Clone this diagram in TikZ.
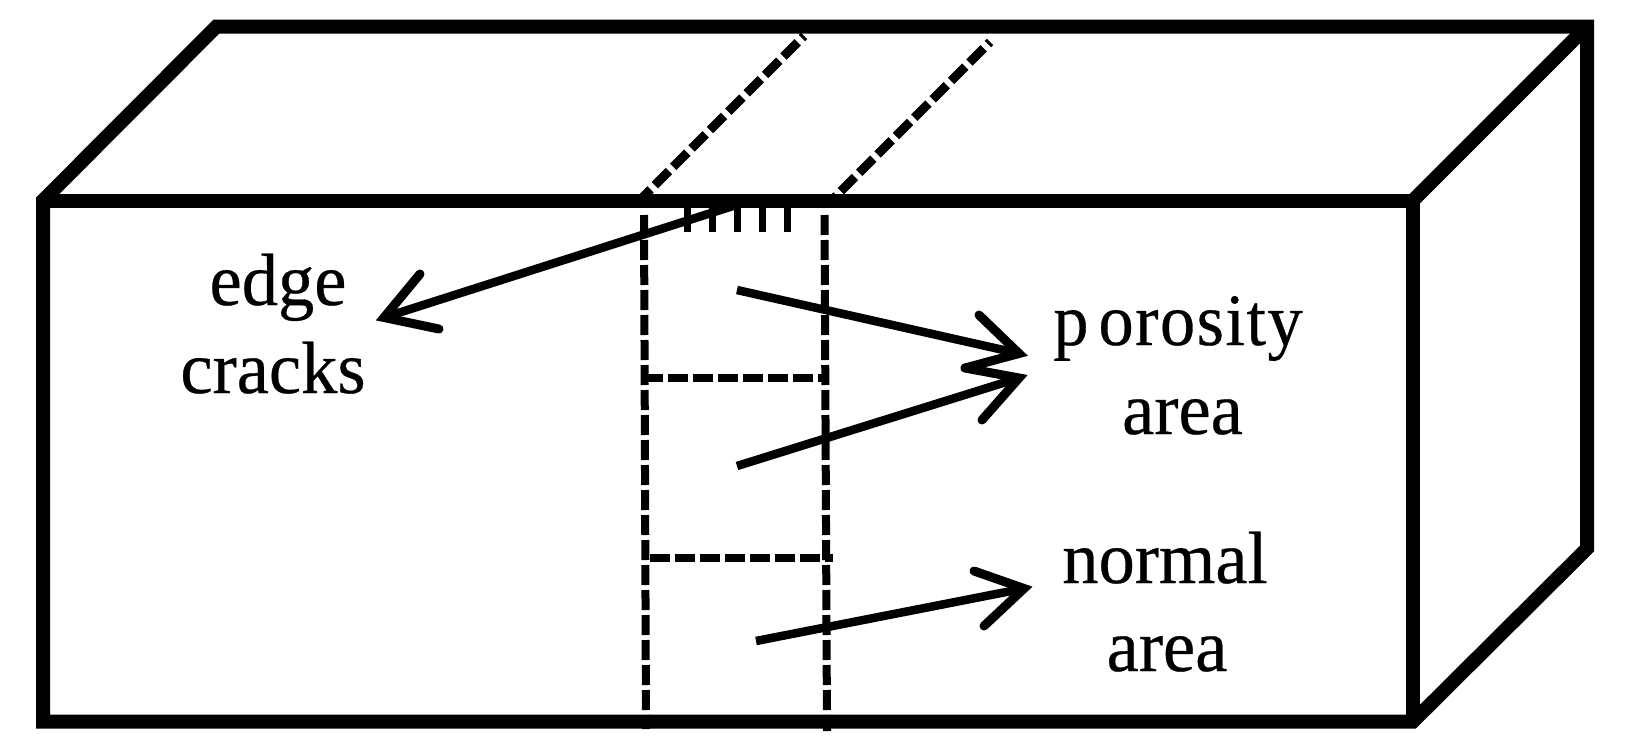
\documentclass[tikz,border=0pt]{standalone}
\usepackage{fontspec}
\newfontfamily\lab[FakeStretch=0.98,FakeBold=0.4]{Liberation Serif}
\newfontfamily\labsp[FakeStretch=0.95,FakeBold=0.4,LetterSpace=2]{Liberation Serif}
\tikzset{
  boxline/.style={line width=14pt,line join=miter,miter limit=10},
  cut/.style={line width=8pt,dash pattern=on 20pt off 5pt},
  slant/.style={line width=9pt,dash pattern=on 20pt off 6pt},
  tick/.style={line width=7.5pt},
  shaft/.style={line width=8.5pt},
  barb/.style={line width=9pt,line cap=round,line join=miter,miter limit=20},
  lbl/.style={anchor=base,inner sep=0pt,font=\lab\fontsize{74}{74}\selectfont}
}
\begin{document}
\begin{tikzpicture}[x=1pt,y=-1pt]
\useasboundingbox (0,0) rectangle (1627,755);
\fill[white] (0,0) rectangle (1627,755);
% box corners
\coordinate (ftl) at (43,200.5);
\coordinate (ftr) at (1413,200.5);
\coordinate (fbr) at (1413,721.5);
\coordinate (fbl) at (43,721.5);
\coordinate (btl) at (216.5,26.5);
\coordinate (btr) at (1587,26.5);
\coordinate (bbr) at (1587,548.5);
% dashed section
\coordinate (l0) at (644,215);
\coordinate (l1) at (646,729);
\coordinate (r0) at (824.5,215);
\coordinate (r1) at (827,731);
\coordinate (t1a) at (804,36);
\coordinate (t1b) at (640,200);
\coordinate (t2a) at (990,42);
\coordinate (t2b) at (832,200);
\coordinate (h1a) at (643,378);
\coordinate (h1b) at (826,378);
\coordinate (h2a) at (650,558);
\coordinate (h2b) at (833,558);
\draw[cut] (l0) -- (l1);
\draw[cut] (r0) -- (r1);
\draw[slant,dash phase=17pt] (t1a) -- (t1b);
\draw[slant,dash phase=17pt] (t2a) -- (t2b);
\draw[cut] (h1a) -- (h1b);
\draw[cut] (h2a) -- (h2b);
% cracks
\foreach \i/\x in {1/687.5,2/712.5,3/737.5,4/762.5,5/787.5}{
  \coordinate (c\i a) at (\x,200);
  \coordinate (c\i b) at (\x,232);
  \draw[tick] (c\i a) -- (c\i b);
}
% box outline
\draw[boxline] (fbl) -- (ftl) -- (btl) -- (btr) -- (bbr) -- (fbr) -- cycle;
\draw[boxline] (ftl) -- (ftr) -- (fbr);
\draw[boxline] (ftr) -- (btr);
% labels
\node[lbl] (edge) at (278,305) {edge};
\node[lbl] (cracks) at (273,393) {cracks};
\node[lbl,font=\labsp\fontsize{74}{74}\selectfont] (porosity) at (1178,345) {p\kern10pt orosity};
\node[lbl] (area1) at (1182.5,434) {area};
\node[lbl] (normal) at (1165,583) {normal};
\node[lbl] (area2) at (1167,671) {area};
% arrows
\coordinate (e0) at (733,206);
\coordinate (e1) at (384,317.5);
\coordinate (e2) at (420,274);
\coordinate (e3) at (439,329);
\draw[shaft] (e0) -- (e1);
\draw[barb] (e2) -- (e1) -- (e3);
\coordinate (p0) at (737,290);
\coordinate (p1) at (1019,353.5);
\coordinate (p2) at (979,315);
\coordinate (p3) at (965,368);
\draw[shaft] (p0) -- (p1);
\draw[barb] (p2) -- (p1) -- (p3);
\coordinate (q0) at (737,466);
\coordinate (q1) at (1019,378);
\coordinate (q2) at (982,420);
\draw[shaft] (q0) -- (q1);
\draw[barb] (p3) -- (q1) -- (q2);
\coordinate (n0) at (756,641);
\coordinate (n1) at (1024,588.5);
\coordinate (n2) at (974,571);
\coordinate (n3) at (984,626);
\draw[shaft] (n0) -- (n1);
\draw[barb] (n2) -- (n1) -- (n3);
\end{tikzpicture}
\end{document}
